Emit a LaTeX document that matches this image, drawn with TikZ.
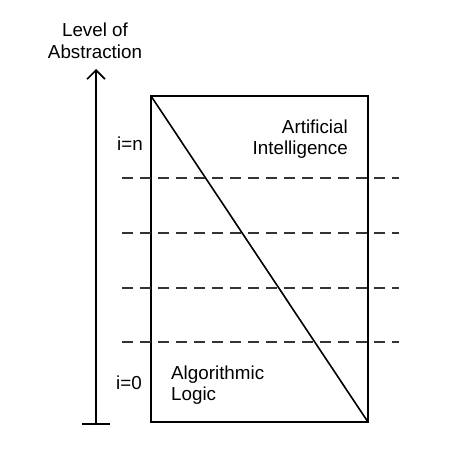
\documentclass[tikz,border=0pt]{standalone}
\usepackage{fontspec}
\setmainfont{Liberation Sans}
\usetikzlibrary{arrows.meta}
\tikzset{
  >=stealth,
  boxline/.style={draw=black,line width=1.6pt},
  levelline/.style={draw=black!80,line width=1.6pt,dash pattern=on 11pt off 7pt},
  axisline/.style={draw=black,line width=1.6pt},
  lbl/.style={font=\fontsize{18.8}{21.5}\selectfont,inner sep=0pt,align=center}
}
\begin{document}
\begin{tikzpicture}[x=1pt,y=-1pt]
  \useasboundingbox (0,0) rectangle (452,452);
  \coordinate (TL) at (151,96);
  \coordinate (BR) at (368,422);
  \draw [boxline] (TL) rectangle (BR);
  \draw [boxline] (TL) -- (BR);
  \foreach \y in {178,233,288,342}
    \draw [levelline] (122,\y) -- (399,\y);
  \coordinate (A0) at (96,424);
  \coordinate (A1) at (96,69);
  \draw [axisline,-{Straight Barb[length=9pt,width=18pt]}] (A0) -- (A1);
  \draw [axisline] (82,424) -- (110,424);
  \node (lev) at (95,41) [lbl] {Level of\\Abstraction};
  \node (in) at (130,144) [lbl] {i=n};
  \node (i0) at (129,383) [lbl] {i=0};
  \node (ai) at (348,139) [lbl,align=right,anchor=east] {Artificial\\Intelligence};
  \node (al) at (171,385) [lbl,align=left,anchor=west] {Algorithmic\\Logic};
\end{tikzpicture}
\end{document}
